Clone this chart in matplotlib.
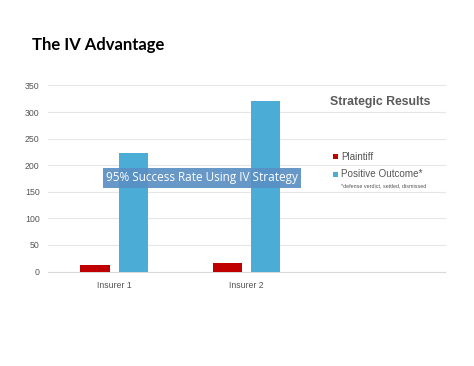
import matplotlib
matplotlib.use("Agg")
import matplotlib.pyplot as plt
import numpy as np

categories = ["Insurer 1", "Insurer 2", ""]
plaintiff = [13, 16, np.nan]
positive = [223, 320, np.nan]
yticks = [0, 50, 100, 150, 200, 250, 300, 350]

red = "#C00000"
blue = "#4BACD6"

fig = plt.figure(figsize=(4.74, 3.66), dpi=100)
ax = fig.add_axes([48/474, 1-271.5/366, 397/474, 186/366])

x = np.arange(len(categories))
w = 0.22
ax.bar(x - 0.145, plaintiff, width=w, color=red, zorder=3)
ax.bar(x + 0.145, positive, width=w, color=blue, zorder=3)

ax.set_xlim(-0.5, 2.5)
ax.set_ylim(0, 350)
ax.set_yticks(yticks)
ax.set_yticklabels([str(v) for v in yticks], fontsize=6.3, color="#555555", family="Liberation Sans")
ax.set_xticks(x[:2])
ax.set_xticklabels(categories[:2], fontsize=6.3, color="#555555", family="Liberation Sans")
ax.tick_params(length=0, pad=7)
ax.tick_params(axis="y", pad=6)
for s in ["top", "right", "left"]:
    ax.spines[s].set_visible(False)
ax.spines["bottom"].set_color("#d9d9d9")
ax.grid(axis="y", color="#e6e6e6", linewidth=0.8, zorder=0)
for gl in ax.get_ygridlines():
    gl.set_clip_on(False)

fig.text(32/474, 1-45/366, "The IV Advantage", fontsize=12, fontweight="bold",
         family="Lato", va="center", ha="left")

fig.text(202/474, 1-178/366, "95% Success Rate Using IV Strategy", fontsize=8.5,
         color="white", family="Open Sans", ha="center", va="center", zorder=5,
         bbox=dict(boxstyle="square,pad=0.3", facecolor="#5A8FC4", edgecolor="none", alpha=0.92))

fig.text(380/474, 1-102/366, "Strategic Results", fontsize=8.8, fontweight="bold",
         color="#595959", family="Liberation Sans", ha="center", va="center")

fig.patches.append(plt.Rectangle((333/474, 1-159/366), 5/474, 5/366, transform=fig.transFigure,
                                 facecolor=red, edgecolor="none"))
fig.text(341/474, 1-156.5/366, "Plaintiff", fontsize=7.1, color="#555555",
         family="Liberation Sans", ha="left", va="center")
fig.patches.append(plt.Rectangle((333/474, 1-177/366), 5/474, 5/366, transform=fig.transFigure,
                                 facecolor=blue, edgecolor="none"))
fig.text(341/474, 1-174.5/366, "Positive Outcome*", fontsize=7.1, color="#555555",
         family="Liberation Sans", ha="left", va="center")
fig.text(341/474, 1-186/366, "*defense verdict, settled, dismissed", fontsize=3.9, color="#555555",
         family="Liberation Sans", ha="left", va="center")

fig.savefig("out.png", dpi=100)
